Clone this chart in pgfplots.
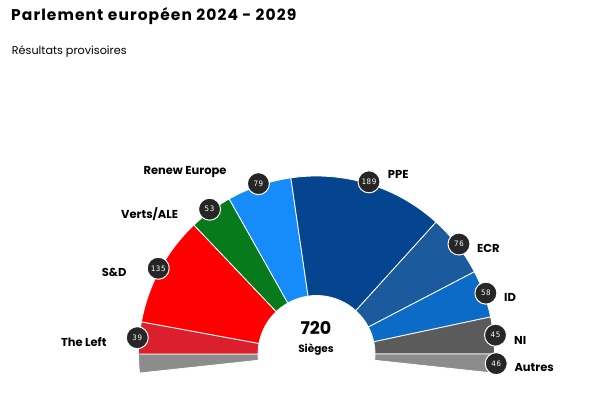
\documentclass[border=0pt]{standalone}
\usepackage{fontspec}
\setmainfont{Poppins}
\newfontfamily\titlefont[LetterSpace=7]{Poppins}
\newfontfamily\numfont[LetterSpace=8]{DejaVu Sans Mono}
\usepackage{pgfplots}
\usepackage{pgfplotstable}
\pgfplotsset{compat=1.18}

\definecolor{cAut}{HTML}{8C8C8C}
\definecolor{cNI}{HTML}{5B5B5B}
\definecolor{cLeft}{HTML}{DC1F2C}
\definecolor{cSD}{HTML}{FF0000}
\definecolor{cVerts}{HTML}{077A1B}
\definecolor{cRenew}{HTML}{168CFA}
\definecolor{cPPE}{HTML}{05458F}
\definecolor{cECR}{HTML}{1C5A9E}
\definecolor{cID}{HTML}{0D6BC8}
\definecolor{cBub}{HTML}{262626}

% seats: s0 / s1 = cumulative seat positions (Autres split in two halves at both ends)
\pgfplotstableread{
name        s0   s1   lab  col
AutresL    -23    0   46   cAut
TheLeft      0   39   39   cLeft
SD          39  174  135   cSD
Verts      174  227   53   cVerts
Renew      227  306   79   cRenew
PPE        306  495  189   cPPE
ECR        495  571   76   cECR
ID         571  629   58   cID
NI         629  674   45   cNI
AutresR    674  697   46   cAut
}\seats

\pgfplotstableread{
x       y      lab
-209.8   8     {The Left}
-189.8  77.3   {S\&D}
-138.2 135.7   {Verts/ALE}
-89.8  179     {Renew Europe}
}\labL
\pgfplotstableread{
x       y      lab
71.2   175.7   {PPE}
160.5  101.3   {ECR}
187.5   52.3   {ID}
197.5    9.7   {NI}
197.8  -17.7   {Autres}
}\labR

\begin{document}
\begin{tikzpicture}
\begin{axis}[
  x=1pt, y=1pt,
  xmin=-316.5, xmax=287.5, ymin=-61, ymax=354,
  hide axis, clip=false,
]
\path (rel axis cs:0,0) rectangle (rel axis cs:1,1);

\pgfplotstablegetrowsof{\seats}
\pgfmathtruncatemacro\N{\pgfplotsretval-1}
\pgfplotsforeachungrouped \i in {0,...,\N}{
  \pgfplotstablegetelem{\i}{s0}\of\seats \let\sA\pgfplotsretval
  \pgfplotstablegetelem{\i}{s1}\of\seats \let\sB\pgfplotsretval
  \pgfplotstablegetelem{\i}{col}\of\seats \let\cc\pgfplotsretval
  \pgfmathsetmacro\tA{180-\sA/674*180}
  \pgfmathsetmacro\tB{180-\sB/674*180}
  \edef\temp{\noexpand\fill[fill=\cc, draw=white, line width=0.8pt, shift={(axis cs:0,0)}]
    (\tA:58.5pt) -- (\tA:178pt) arc[start angle=\tA, end angle=\tB, radius=178pt]
    -- (\tB:58.5pt) arc[start angle=\tB, end angle=\tA, radius=58.5pt] -- cycle;}
  \temp
}

% bubbles with seat numbers
\addplot[only marks, mark=*, mark size=11pt,
  mark options={fill=cBub, draw=white, line width=1pt},
  skip coords between index={0}{1},
  point meta=explicit symbolic,
  nodes near coords,
  every node near coord/.append style={anchor=center, text=white,
     font=\numfont\fontsize{7.5}{8}\selectfont},
] table[x expr={180*cos(180-(\thisrow{s0}+\thisrow{s1})/674*90)},
        y expr={180*sin(180-(\thisrow{s0}+\thisrow{s1})/674*90)},
        meta=lab] {\seats};

% party labels
\addplot[draw=none, mark=none, point meta=explicit symbolic, nodes near coords,
  every node near coord/.append style={anchor=base east, inner sep=0pt,
     font=\bfseries\fontsize{11.5}{12}\selectfont}]
  table[x=x, y=y, meta=lab] {\labL};
\addplot[draw=none, mark=none, point meta=explicit symbolic, nodes near coords,
  every node near coord/.append style={anchor=base west, inner sep=0pt,
     font=\bfseries\fontsize{11.5}{12}\selectfont}]
  table[x=x, y=y, meta=lab] {\labR};

\node[anchor=base, inner sep=0pt, font=\bfseries\fontsize{17.5}{18}\selectfont] at (axis cs:-0.5,19.7) {720};
\node[anchor=base, inner sep=0pt, font=\bfseries\fontsize{10.5}{11}\selectfont] at (axis cs:-0.5,2) {Sièges};

\node[anchor=base west, inner sep=0pt, font=\titlefont\bfseries\fontsize{15.5}{16}\selectfont] at (axis cs:-305.5,333) {Parlement européen 2024 - 2029};
\node[anchor=base west, inner sep=0pt, font=\fontsize{11.2}{12}\selectfont] at (axis cs:-304.8,299) {Résultats provisoires};
\end{axis}
\end{tikzpicture}
\end{document}
